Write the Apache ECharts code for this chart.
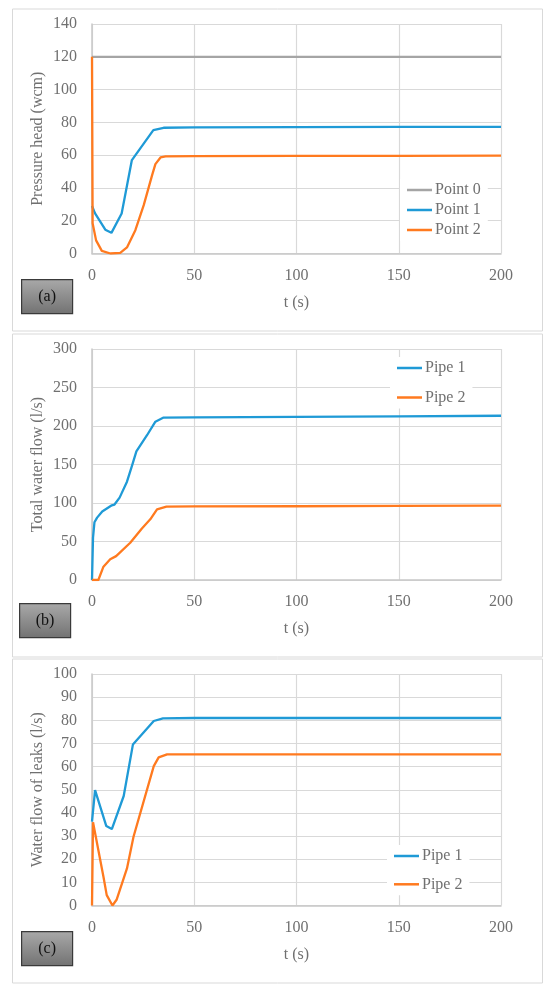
<!DOCTYPE html>
<html>
<head>
<meta charset="utf-8">
<script src="https://cdn.jsdelivr.net/npm/echarts@6/dist/echarts.min.js"></script>
<style>
html,body{margin:0;padding:0;background:#fff;}
#c{width:550px;height:988px;}
</style>
</head>
<body>
<div id="c"></div>
<script>
// ---------- data ----------
var xTicks = [0, 50, 100, 150, 200];

// Panel (a): pressure head (wcm)
var tA0 = [0, 200];
var vA0 = [120, 120];
var tA1 = [0, 1.5, 6.5, 9.5, 14.5, 19.5, 30, 35, 50, 100, 150, 200];
var vA1 = [29, 24.5, 14.5, 12.6, 24.4, 57, 75.3, 76.7, 77, 77.1, 77.2, 77.3];
var tA2 = [0, 0.3, 2, 4.8, 9, 13.8, 17.1, 21.2, 25.3, 29.4, 31, 33.5, 36, 50, 100, 150, 200];
var vA2 = [120, 18.5, 8, 1.6, 0, 0.4, 3.7, 14.2, 29.5, 47.8, 54.5, 58.6, 59.3, 59.4, 59.5, 59.6, 59.7];

// Panel (b): total water flow (l/s)
var tB1 = [0, 0.5, 1.2, 2.5, 5, 9.7, 11, 13.5, 17.1, 19.5, 21.7, 26.9, 31, 35, 50, 100, 150, 200];
var vB1 = [0, 55, 75, 81, 89, 97, 98, 107, 127.7, 148, 167, 188, 205.6, 211, 211.2, 211.8, 212.5, 213.3];
var tB2 = [0, 3.1, 5.6, 8.9, 11.8, 18.7, 24.4, 28.5, 31.8, 36.4, 50, 100, 150, 200];
var vB2 = [0, 0, 17.3, 26.9, 31, 48.4, 67, 78.8, 91.8, 95.2, 95.5, 95.8, 96.2, 96.5];

// Panel (c): water flow of leaks (l/s)
var tC1 = [0, 1.5, 7, 9.7, 15.5, 20, 30.2, 34.7, 50, 100, 150, 200];
var vC1 = [36.2, 49.8, 34.3, 33, 47.3, 69.5, 79.7, 80.8, 81, 81, 81, 81];
var tC2 = [0, 0.5, 1, 5.6, 7.2, 10, 12.1, 17.1, 20.3, 30.2, 32.6, 36.7, 50, 100, 150, 200];
var vC2 = [0, 36, 36, 12.4, 4.5, 0, 2.6, 16, 29.7, 60.2, 64, 65.3, 65.3, 65.3, 65.3, 65.3];

var yTitles = ['Pressure head (wcm)', 'Total water flow (l/s)', 'Water flow of leaks (l/s)'];
var xTitle = 't (s)';
var panelLabels = ['(a)', '(b)', '(c)'];
var namesA = ['Point 0', 'Point 1', 'Point 2'];
var namesBC = ['Pipe 1', 'Pipe 2'];

// ---------- style ----------
var FONT = 'Liberation Serif';
var TXT = '#707070';
var GRID = '#d9d9d9';
var GREY = '#A5A5A5', BLUE = '#1F9AD6', ORANGE = '#FF7A1F';

function pairs(t, v) { return t.map(function (x, i) { return [x, v[i]]; }); }

function xAxis(gi) {
  return {
    type: 'value', gridIndex: gi, min: 0, max: 200, interval: 50,
    name: xTitle, nameLocation: 'middle', nameGap: 41, nameMoveOverlap: false,
    nameTextStyle: { fontFamily: FONT, fontSize: 16, color: TXT },
    axisLine: { show: true, lineStyle: { color: '#c8c8c8', width: 1.5 } },
    axisTick: { show: false },
    splitLine: { show: true, lineStyle: { color: GRID, width: 1.2 } },
    axisLabel: { fontFamily: FONT, fontSize: 16, color: TXT, margin: 14 }
  };
}
function yAxis(gi, max, interval) {
  return {
    type: 'value', gridIndex: gi, min: 0, max: max, interval: interval,
    name: yTitles[gi], nameLocation: 'middle', nameGap: 46, nameMoveOverlap: false,
    nameTextStyle: { fontFamily: FONT, fontSize: 16, color: TXT },
    axisLine: { show: true, lineStyle: { color: '#c8c8c8', width: 1.5 } },
    axisTick: { show: false },
    splitLine: { show: true, lineStyle: { color: GRID, width: 1.2 } },
    axisLabel: { fontFamily: FONT, fontSize: 16, color: TXT, margin: 15 }
  };
}
function line(name, gi, t, v, color) {
  return {
    type: 'line', name: name, xAxisIndex: gi, yAxisIndex: gi,
    data: pairs(t, v), symbol: 'none', smooth: false,
    lineStyle: { color: color, width: 2.3 }, itemStyle: { color: color },
    emphasis: { disabled: true }, animation: false
  };
}
function legend(data, left, top, gap) {
  return {
    data: data, orient: 'vertical', left: left, top: top,
    icon: 'rect', itemWidth: 25, itemHeight: 2.5, itemGap: gap,
    padding: [3, 7, 3, 7], backgroundColor: '#ffffff',
    textStyle: { fontFamily: FONT, fontSize: 16, color: TXT, lineHeight: 16, padding: [0, 0, 0, -2] },
    selectedMode: false
  };
}
function labelBox(x, y, text) {
  return {
    type: 'group', left: x, top: y, z: 100,
    children: [
      { type: 'rect', shape: { x: 0, y: 0, width: 51, height: 34 },
        style: { fill: new echarts.graphic.LinearGradient(0, 0, 0, 1, [
          { offset: 0, color: '#a9a9a9' }, { offset: 1, color: '#727272' }]),
          stroke: '#3a3a3a', lineWidth: 1.2 } },
      { type: 'text', x: 25.5, y: 17,
        style: { text: text, fontFamily: FONT, fontSize: 16, fill: '#111', align: 'center', verticalAlign: 'middle' } }
    ]
  };
}
function panelRect(y, h) {
  return { type: 'rect', left: 10, top: y, z: -10, silent: true,
    shape: { width: 530, height: h }, style: { fill: 'none', stroke: '#d9d9d9', lineWidth: 1 } };
}

var chart = echarts.init(document.getElementById('c'), null, { renderer: 'canvas' });
chart.setOption({
  animation: false,
  backgroundColor: '#ffffff',
  grid: [
    { left: 92, right: 49, top: 24, height: 229.5 },
    { left: 92, right: 49, top: 349, height: 231 },
    { left: 92, right: 49, top: 674, height: 231.5 }
  ],
  xAxis: [xAxis(0), xAxis(1), xAxis(2)],
  yAxis: [yAxis(0, 140, 20), yAxis(1, 300, 50), yAxis(2, 100, 10)],
  legend: [
    legend(namesA, 400, 179, 4),
    legend(namesBC, 390, 357, 13.5),
    legend(namesBC, 387, 845, 12.3)
  ],
  graphic: [
    panelRect(6.5, 322), panelRect(331.5, 323), panelRect(656.5, 324),
    labelBox(21, 279, panelLabels[0]),
    labelBox(19, 603, panelLabels[1]),
    labelBox(21, 931, panelLabels[2])
  ],
  series: [
    line(namesA[0], 0, tA0, vA0, GREY),
    line(namesA[1], 0, tA1, vA1, BLUE),
    line(namesA[2], 0, tA2, vA2, ORANGE),
    line(namesBC[0], 1, tB1, vB1, BLUE),
    line(namesBC[1], 1, tB2, vB2, ORANGE),
    line(namesBC[0], 2, tC1, vC1, BLUE),
    line(namesBC[1], 2, tC2, vC2, ORANGE)
  ]
});
</script>
</body>
</html>
